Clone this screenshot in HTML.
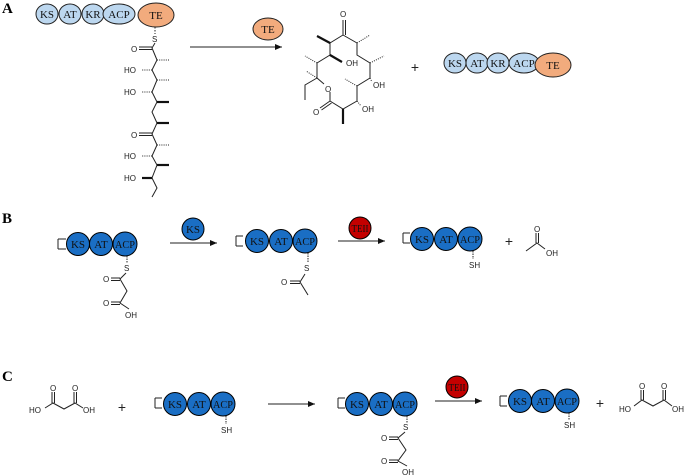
<!DOCTYPE html>
<html><head><meta charset="utf-8"><style>
html,body{margin:0;padding:0;background:#fff;}
svg{display:block;}
.e{font-family:"Liberation Serif",serif;font-size:11px;text-anchor:middle;fill:#111;}
.a{font-family:"Liberation Sans",sans-serif;font-size:8px;fill:#222;}
.L{font-family:"Liberation Serif",serif;font-size:15px;font-weight:bold;fill:#000;}
.b{fill:#1a6ec4;stroke:#000;stroke-width:1;}
.lb{fill:#bcd7ef;stroke:#222;stroke-width:1;}
.or{fill:#f2ab7d;stroke:#222;stroke-width:1;}
.rd{fill:#c40000;stroke:#000;stroke-width:1;}
.ln{stroke:#222;stroke-width:1;fill:none;}
</style></head><body>
<svg width="685" height="476" viewBox="0 0 685 476" xmlns="http://www.w3.org/2000/svg">
<defs><marker id="ar" markerWidth="8" markerHeight="8" refX="7" refY="3" orient="auto"><path d="M0,0 L7,3 L0,6 z" fill="#111"/></marker></defs>

<!-- Panel A -->
<text class="L" x="2" y="13">A</text>
<ellipse class="lb" cx="47" cy="14" rx="11" ry="10"/><text class="e" x="47" y="18">KS</text>
<ellipse class="lb" cx="70" cy="14" rx="11" ry="10"/><text class="e" x="70" y="18">AT</text>
<ellipse class="lb" cx="93" cy="14" rx="11" ry="10"/><text class="e" x="93" y="18">KR</text>
<ellipse class="lb" cx="119" cy="14" rx="16" ry="10"/><text class="e" x="119" y="18">ACP</text>
<ellipse class="or" cx="156" cy="15" rx="18" ry="12"/><text class="e" x="156" y="19">TE</text>
<line class="ln" x1="155" y1="27" x2="155" y2="34" stroke-dasharray="1.5,1.5"/>
<text class="a" x="152" y="42">S</text>
<polyline class="ln" points="155,43 152,48 157,60 152,70 157,80 152,92 157,102 152,112 157,123 152,134 157,145 152,156 157,165 152,178 157,188 152,197"/>
<line class="ln" x1="152" y1="47" x2="139" y2="47"/><line class="ln" x1="152" y1="49.5" x2="139" y2="49.5"/><text class="a" x="131" y="52">O</text>
<line class="ln" x1="152" y1="133" x2="139" y2="133"/><line class="ln" x1="152" y1="135.5" x2="139" y2="135.5"/><text class="a" x="131" y="138">O</text>
<g stroke="#222" stroke-width="1" stroke-dasharray="1,1.2">
<line x1="157" y1="60" x2="169" y2="60"/><line x1="157" y1="80" x2="169" y2="80"/><line x1="157" y1="145" x2="169" y2="145"/>
<line x1="152" y1="70" x2="142" y2="70"/><line x1="152" y1="92" x2="142" y2="92"/><line x1="152" y1="156" x2="142" y2="156"/>
</g>
<g stroke="#111" stroke-width="2.2"><line x1="157" y1="102" x2="169" y2="102"/><line x1="157" y1="123" x2="169" y2="123"/><line x1="157" y1="165" x2="169" y2="165"/><line x1="152" y1="178" x2="142" y2="178"/></g>
<text class="a" x="124" y="73">HO</text><text class="a" x="124" y="95">HO</text><text class="a" x="124" y="159">HO</text><text class="a" x="124" y="181">HO</text>

<line class="ln" x1="190" y1="47" x2="282" y2="47" marker-end="url(#ar)" stroke-width="1.3"/>
<ellipse class="or" cx="268" cy="29" rx="15" ry="11"/><text class="e" x="268" y="33">TE</text>

<!-- macrolide -->
<polyline class="ln" points="343,35 357,43 357,55 370,63 370,78 357,86 357,101 343,109 330,101"/>
<polyline class="ln" points="330,101 330,92"/><polyline class="ln" points="324,84 317,78 317,63 330,55 330,43 343,35"/>
<text class="a" x="325" y="92">O</text>
<line class="ln" x1="343" y1="35" x2="343" y2="20"/><line class="ln" x1="345.5" y1="35" x2="345.5" y2="20"/><text class="a" x="340" y="17">O</text>
<line class="ln" x1="330" y1="101" x2="320" y2="108"/><line class="ln" x1="331.5" y1="103" x2="321.5" y2="110"/><text class="a" x="313" y="115">O</text>
<polyline class="ln" points="317,78 305,85 305,100"/>
<text class="a" x="373" y="88">OH</text><text class="a" x="362" y="112">OH</text><text class="a" x="346" y="66">OH</text>
<g stroke="#222" stroke-width="1" stroke-dasharray="1,1.2">
<line x1="357" y1="43" x2="370" y2="35"/><line x1="370" y1="63" x2="384" y2="56"/><line x1="357" y1="86" x2="345" y2="79"/>
<line x1="317" y1="63" x2="305" y2="56"/><line x1="317" y1="78" x2="306" y2="71"/><line x1="370" y1="78" x2="372" y2="82"/><line x1="357" y1="101" x2="361" y2="106"/>
</g>
<g stroke="#111" stroke-width="2.2"><line x1="330" y1="43" x2="317" y2="36"/><line x1="343" y1="109" x2="343" y2="124"/><line x1="330" y1="55" x2="342" y2="62"/></g>

<text x="415" y="72" font-family="Liberation Sans,sans-serif" font-size="14" text-anchor="middle" fill="#222">+</text>
<ellipse class="lb" cx="455" cy="63" rx="11" ry="10"/><text class="e" x="455" y="67">KS</text>
<ellipse class="lb" cx="477" cy="63" rx="11" ry="10"/><text class="e" x="477" y="67">AT</text>
<ellipse class="lb" cx="498" cy="63" rx="11" ry="10"/><text class="e" x="498" y="67">KR</text>
<ellipse class="lb" cx="524" cy="63" rx="15" ry="10"/><text class="e" x="524" y="67">ACP</text>
<ellipse class="or" cx="553" cy="65" rx="18" ry="12"/><text class="e" x="553" y="69">TE</text>

<!-- Panel B -->
<text class="L" x="2" y="223">B</text>
<path class="ln" d="M58,239 H66 M58,249 H66 M58,239 V249" stroke-width="2"/>
<circle class="b" cx="78" cy="244" r="11.5"/><text class="e" x="78" y="248">KS</text>
<circle class="b" cx="101" cy="244" r="11.5"/><text class="e" x="101" y="248">AT</text>
<circle class="b" cx="125" cy="244" r="12"/><text class="e" x="125" y="248" textLength="20" lengthAdjust="spacingAndGlyphs">ACP</text>
<line class="ln" x1="127" y1="256" x2="127" y2="263" stroke-dasharray="1.5,1"/>
<text class="a" x="124" y="271">S</text>
<polyline class="ln" points="126,273 120,279 127,291 120,303 129,309"/>
<line class="ln" x1="120" y1="278" x2="111" y2="278"/><line class="ln" x1="120" y1="280.5" x2="111" y2="280.5"/><text class="a" x="103" y="282">O</text>
<line class="ln" x1="120" y1="302" x2="111" y2="302"/><line class="ln" x1="120" y1="304.5" x2="111" y2="304.5"/><text class="a" x="103" y="306">O</text>
<text class="a" x="125" y="318">OH</text>

<line class="ln" x1="170" y1="243" x2="217" y2="243" marker-end="url(#ar)"/>
<circle class="b" cx="193" cy="229" r="11"/><text class="e" x="193" y="233">KS</text>

<path class="ln" d="M236,236 H243 M236,246 H243 M236,236 V246" stroke-width="2"/>
<circle class="b" cx="257" cy="241" r="11.5"/><text class="e" x="257" y="245">KS</text>
<circle class="b" cx="281" cy="241" r="11.5"/><text class="e" x="281" y="245">AT</text>
<circle class="b" cx="305" cy="241" r="12"/><text class="e" x="305" y="245" textLength="20" lengthAdjust="spacingAndGlyphs">ACP</text>
<line class="ln" x1="308" y1="253" x2="308" y2="262" stroke-dasharray="1.5,1"/>
<text class="a" x="304" y="271">S</text>
<polyline class="ln" points="305,274 300,282 308,295"/>
<line class="ln" x1="300" y1="281" x2="290" y2="281"/><line class="ln" x1="300" y1="283.5" x2="290" y2="283.5"/><text class="a" x="281" y="285">O</text>

<line class="ln" x1="338" y1="241" x2="385" y2="241" marker-end="url(#ar)"/>
<circle class="rd" cx="360" cy="228" r="11"/><text class="e" x="360" y="232" textLength="17" lengthAdjust="spacingAndGlyphs">TEII</text>

<path class="ln" d="M403,233 H410 M403,243 H410 M403,233 V243" stroke-width="2"/>
<circle class="b" cx="422" cy="239" r="11.5"/><text class="e" x="422" y="243">KS</text>
<circle class="b" cx="446" cy="239" r="11.5"/><text class="e" x="446" y="243">AT</text>
<circle class="b" cx="470" cy="239" r="12"/><text class="e" x="470" y="243" textLength="20" lengthAdjust="spacingAndGlyphs">ACP</text>
<line class="ln" x1="473" y1="251" x2="473" y2="259" stroke-dasharray="1.5,1"/>
<text class="a" x="469" y="268">SH</text>
<text x="509" y="246" font-family="Liberation Sans,sans-serif" font-size="14" text-anchor="middle" fill="#222">+</text>
<polyline class="ln" points="526,251 537,243 545,249"/>
<line class="ln" x1="536" y1="243" x2="536" y2="233"/><line class="ln" x1="538.5" y1="243" x2="538.5" y2="233"/><text class="a" x="534" y="232">O</text>
<text class="a" x="546" y="256">OH</text>

<!-- Panel C -->
<text class="L" x="2" y="381">C</text>
<polyline class="ln" points="45,408 53,403 64,409 75,403 83,408"/>
<line class="ln" x1="52" y1="403" x2="52" y2="392"/><line class="ln" x1="54.5" y1="403" x2="54.5" y2="392"/><text class="a" x="50" y="391">O</text>
<line class="ln" x1="74" y1="403" x2="74" y2="392"/><line class="ln" x1="76.5" y1="403" x2="76.5" y2="392"/><text class="a" x="72" y="391">O</text>
<text class="a" x="29" y="413">HO</text><text class="a" x="83" y="413">OH</text>
<text x="122" y="412" font-family="Liberation Sans,sans-serif" font-size="14" text-anchor="middle" fill="#222">+</text>

<path class="ln" d="M155,398 H162 M155,408 H162 M155,398 V408" stroke-width="2"/>
<circle class="b" cx="175" cy="404" r="11.5"/><text class="e" x="175" y="408">KS</text>
<circle class="b" cx="199" cy="404" r="11.5"/><text class="e" x="199" y="408">AT</text>
<circle class="b" cx="223" cy="404" r="12"/><text class="e" x="223" y="408" textLength="20" lengthAdjust="spacingAndGlyphs">ACP</text>
<line class="ln" x1="226" y1="416" x2="226" y2="424" stroke-dasharray="1.5,1"/>
<text class="a" x="221" y="433">SH</text>

<line class="ln" x1="268" y1="404" x2="315" y2="404" marker-end="url(#ar)"/>

<path class="ln" d="M338,398 H345 M338,408 H345 M338,398 V408" stroke-width="2"/>
<circle class="b" cx="357" cy="404" r="11.5"/><text class="e" x="357" y="408">KS</text>
<circle class="b" cx="381" cy="404" r="11.5"/><text class="e" x="381" y="408">AT</text>
<circle class="b" cx="405" cy="404" r="12"/><text class="e" x="405" y="408" textLength="20" lengthAdjust="spacingAndGlyphs">ACP</text>
<line class="ln" x1="407" y1="416" x2="407" y2="423" stroke-dasharray="1.5,1"/>
<text class="a" x="403" y="430">S</text>
<polyline class="ln" points="405,432 398,438 406,450 398,461 407,466"/>
<line class="ln" x1="398" y1="437" x2="389" y2="437"/><line class="ln" x1="398" y1="439.5" x2="389" y2="439.5"/><text class="a" x="381" y="441">O</text>
<line class="ln" x1="398" y1="460" x2="389" y2="460"/><line class="ln" x1="398" y1="462.5" x2="389" y2="462.5"/><text class="a" x="381" y="464">O</text>
<text class="a" x="402" y="475">OH</text>

<line class="ln" x1="435" y1="401" x2="482" y2="401" marker-end="url(#ar)"/>
<circle class="rd" cx="457" cy="387" r="11"/><text class="e" x="457" y="391" textLength="17" lengthAdjust="spacingAndGlyphs">TEII</text>

<path class="ln" d="M500,396 H507 M500,406 H507 M500,396 V406" stroke-width="2"/>
<circle class="b" cx="520" cy="401" r="11.5"/><text class="e" x="520" y="405">KS</text>
<circle class="b" cx="543" cy="401" r="11.5"/><text class="e" x="543" y="405">AT</text>
<circle class="b" cx="567" cy="401" r="12"/><text class="e" x="567" y="405" textLength="20" lengthAdjust="spacingAndGlyphs">ACP</text>
<line class="ln" x1="569" y1="413" x2="569" y2="420" stroke-dasharray="1.5,1"/>
<text class="a" x="564" y="428">SH</text>
<text x="600" y="408" font-family="Liberation Sans,sans-serif" font-size="14" text-anchor="middle" fill="#222">+</text>
<polyline class="ln" points="634,406 642,400 653,406 664,400 672,406"/>
<line class="ln" x1="641" y1="400" x2="641" y2="390"/><line class="ln" x1="643.5" y1="400" x2="643.5" y2="390"/><text class="a" x="639" y="389">O</text>
<line class="ln" x1="663" y1="400" x2="663" y2="390"/><line class="ln" x1="665.5" y1="400" x2="665.5" y2="390"/><text class="a" x="661" y="389">O</text>
<text class="a" x="619" y="412">HO</text><text class="a" x="672" y="412">OH</text>
</svg>
</body></html>
